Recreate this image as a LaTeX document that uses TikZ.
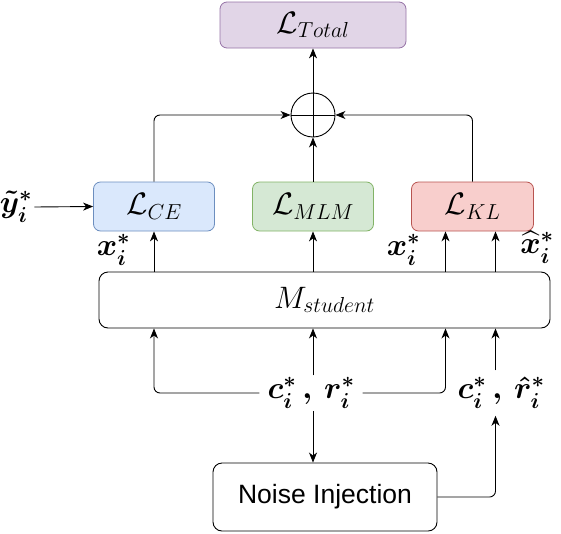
\RequirePackage{fix-cm}
\documentclass[tikz,border=0pt]{standalone}
\usepackage{amsmath,amssymb}
\usepackage{fontspec}
\newfontfamily\arialfont{Liberation Sans}
\usetikzlibrary{arrows.meta,calc}
\definecolor{purpleF}{HTML}{E1D5E7}\definecolor{purpleD}{HTML}{9673A6}
\definecolor{blueF}{HTML}{DAE8FC}\definecolor{blueD}{HTML}{6C8EBF}
\definecolor{greenF}{HTML}{D5E8D4}\definecolor{greenD}{HTML}{82B366}
\definecolor{redF}{HTML}{F8CECC}\definecolor{redD}{HTML}{B85450}
\newcommand\bigmath{\fontsize{31}{36}\selectfont}
\begin{document}
\begin{tikzpicture}[x=1pt,y=-1pt,
  lossbox/.style={draw, line width=0.8pt, rounded corners=7pt, minimum width=121pt, minimum height=49pt, font=\bigmath, inner sep=0pt},
  plainbox/.style={draw, line width=0.9pt, rounded corners=9pt},
  lbl/.style={font=\bigmath, inner sep=2pt},
  arr/.style={-{Stealth[length=10pt,width=8pt,inset=3pt]}, line width=0.9pt},
  lin/.style={line width=0.9pt}]
\useasboundingbox (0,0) rectangle (561,533);
\node[lossbox, fill=purpleF, draw=purpleD, minimum width=186pt, minimum height=46pt] (ltot) at (313,25) {$\mathcal{L}_{Total}$};
\node[draw, circle, line width=0.9pt, minimum size=44pt, inner sep=0pt] (circ) at (313,115) {};
\draw[lin] (circ.north) -- (circ.south) (circ.west) -- (circ.east);
\node[lossbox, fill=blueF, draw=blueD] (lce) at (154,206.5) {$\mathcal{L}_{CE}$};
\node[lossbox, fill=greenF, draw=greenD] (lmlm) at (313,206.5) {$\mathcal{L}_{MLM}$};
\node[lossbox, fill=redF, draw=redD, minimum width=122pt] (lkl) at (472.5,206.5) {$\mathcal{L}_{KL}$};
\node[plainbox, minimum width=451pt, minimum height=56pt, font=\bigmath] (ms) at (324.5,300) {$M_{student}$};
\node[plainbox, minimum width=224pt, minimum height=68pt, font=\arialfont\fontsize{26.5}{31}\selectfont] (noise) at (325,497) {Noise Injection};
\node[lbl] (ylab) at (16,207) {$\boldsymbol{\tilde{y}_i^*}$};
\node[lbl] (xl) at (113.5,250) {$\boldsymbol{x_i^*}$};
\node[lbl] (xr) at (403.5,250) {$\boldsymbol{x_i^*}$};
\node[lbl] (xh) at (537,247) {$\boldsymbol{\widehat{x}_i^*}$};
\node[lbl, inner xsep=8pt] (cr) at (311,393) {$\boldsymbol{c_i^*\,,\,r_i^*}$};
\node[lbl, inner ysep=7pt] (crh) at (501,393) {$\boldsymbol{c_i^*\,,\,\hat{r}_i^*}$};
\coordinate (k1) at (445.5,272);
\coordinate (k2) at (495.5,272);
% top
\draw[arr] (circ.north) -- (ltot.south);
\draw[arr, rounded corners=6pt] (lce.north) |- (circ.west);
\draw[arr, rounded corners=6pt] (lkl.north) |- (circ.east);
\draw[arr] (lmlm.north) -- (circ.south);
\draw[arr] (ylab.east) -- (lce.west);
% student outputs
\draw[arr] (ms.north -| lce) -- (lce.south);
\draw[arr] (ms.north -| lmlm) -- (lmlm.south);
\draw[arr] (k1) -- (k1 |- lkl.south);
\draw[arr] (k2) -- (k2 |- lkl.south);
% inputs
\draw[arr, rounded corners=6pt] (cr.west) -| (ms.south -| lce);
\draw[arr, rounded corners=6pt] (cr.east) -| (ms.south -| k1);
\draw[arr] ([xshift=2pt]cr.north) -- ([xshift=2pt]cr.north |- ms.south);
\draw[arr] ([xshift=2pt]cr.south) -- ([xshift=2pt]cr.south |- noise.north);
\draw[arr, rounded corners=6pt] (noise.east) -| (k2 |- crh.south);
\draw[arr] (k2 |- crh.north) -- (k2 |- ms.south);
\end{tikzpicture}
\end{document}
